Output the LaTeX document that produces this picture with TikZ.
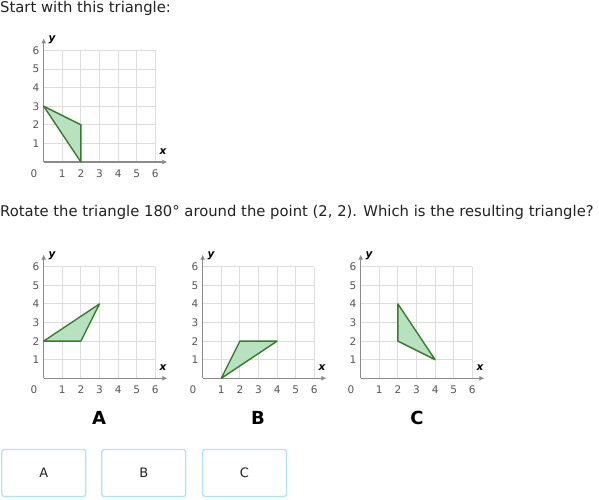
\documentclass[tikz,border=0pt]{standalone}
\usepackage{fontspec}
\setmainfont{DejaVu Sans}
\usetikzlibrary{arrows.meta}

\definecolor{gridgray}{HTML}{DDDDDD}
\definecolor{axisgray}{HTML}{8A8A8A}
\definecolor{numgray}{HTML}{555555}
\definecolor{trifill}{HTML}{B8E2BF}
\definecolor{triline}{HTML}{3A7A2C}
\definecolor{btnblue}{HTML}{B0E3F8}
\definecolor{txtgray}{HTML}{222222}

\tikzset{
  gridline/.style={gridgray, line width=0.9pt},
  axisline/.style={axisgray, line width=1.4pt, -{Latex[length=5pt,width=5pt]}},
  ticklabel/.style={text=numgray, font=\fontsize{10.5}{11}\selectfont, inner sep=0pt},
  axlabel/.style={text=black, font=\fontsize{10.5}{11}\selectfont\bfseries\itshape, inner sep=0pt},
  triangle/.style={fill=trifill, draw=triline, line width=1.4pt, line join=round},
  question/.style={text=txtgray, font=\fontsize{14.8}{16}\selectfont, anchor=west, inner sep=0pt},
  choicename/.style={font=\fontsize{18}{20}\selectfont\bfseries, inner sep=0pt},
  answerbox/.style={draw=btnblue, line width=1.3pt, rounded corners=2.5pt,
    minimum width=84pt, minimum height=47pt, font=\fontsize{13}{15}\selectfont, text=txtgray},
}

% grid, axes and numbers of one plane, in plane units
\newcommand{\plane}{%
  \draw[gridline, step=1] (0,0) grid (6,6);
  \draw[axisline] (0,0) -- (6.65,0);
  \draw[axisline] (0,0) -- (0,6.65);
  \node[axlabel] at (6.42,0.55) {x};
  \node[axlabel] at (0.45,6.57) {y};
  \node[ticklabel] at (-0.52,-0.63) {0};
  \foreach \k in {1,...,6} {
    \node[ticklabel] at (\k,-0.63) {\k};
    \node[ticklabel] at (-0.42,\k) {\k};
  }
}

\begin{document}
\begin{tikzpicture}[x=1pt, y=1pt]
\useasboundingbox (0,0) rectangle (599,499);

\node[question] (start) at (0,491) {Start with this triangle:};

% given triangle
\begin{scope}[shift={(43.7pt,337pt)}, x=18.6pt, y=18.6pt]
  \plane
  \filldraw[triangle] (0,3) -- (2,2) -- (2,0) -- cycle;
\end{scope}

\node[question] (ask) at (0,287) {Rotate the triangle 180° around the point (2, 2). Which is the resulting triangle?};

% choice A
\begin{scope}[shift={(43.7pt,120.7pt)}, x=18.6pt, y=18.6pt]
  \plane
  \filldraw[triangle] (0,2) -- (2,2) -- (3,4) -- cycle;
\end{scope}

% choice B
\begin{scope}[shift={(202.7pt,120.7pt)}, x=18.6pt, y=18.6pt]
  \plane
  \filldraw[triangle] (1,0) -- (2,2) -- (4,2) -- cycle;
\end{scope}

% choice C
\begin{scope}[shift={(360.7pt,120.7pt)}, x=18.6pt, y=18.6pt]
  \plane
  \filldraw[triangle] (2,4) -- (2,2) -- (4,1) -- cycle;
\end{scope}

\node[choicename] (nameA) at (99,81) {A};
\node[choicename] (nameB) at (258,81) {B};
\node[choicename] (nameC) at (417,81) {C};

\node[answerbox] (btnA) at (43.8,26) {A};
\node[answerbox] (btnB) at (143.8,26) {B};
\node[answerbox] (btnC) at (244.5,26) {C};

\end{tikzpicture}
\end{document}
